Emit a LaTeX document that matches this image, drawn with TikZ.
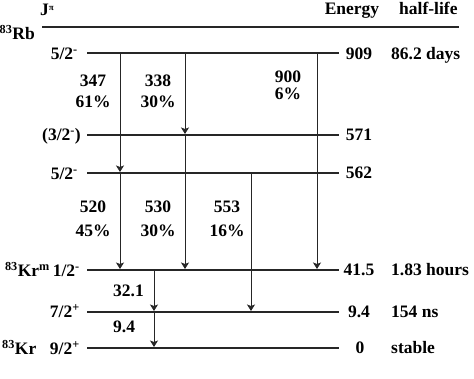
\documentclass[tikz,border=0pt]{standalone}
\usepackage{fontspec}
\setmainfont{Liberation Serif}
\usetikzlibrary{arrows.meta}
\begin{document}
\begin{tikzpicture}[x=1pt,y=-1pt,
  lvl/.style={line width=1.3pt,black!85},
  head/.style={line width=2.2pt,black!85},
  tr/.style={line width=0.9pt,black!85,-{Stealth[length=6.5pt,width=8pt,inset=1.5pt]}},
  txt/.style={font=\fontsize{17.5}{20}\selectfont\bfseries,inner sep=0pt},
  lab/.style={txt,anchor=base east},
  en/.style={txt,anchor=base},
  hl/.style={txt,anchor=base west}]
\useasboundingbox (0,0) rectangle (474,379);
% header
\coordinate (h1) at (42,27); \coordinate (h2) at (459,27);
\draw[head] (h1) -- (h2);
\node[hl] (jp) at (40,15.5) {J\raisebox{5pt}{\fontsize{9}{9}\selectfont π}};
\node[en] (enh) at (352,15) {Energy};
\node[hl] (hlh) at (399,15) {half-life};
\node[lab] (rb) at (35,40) {\textsuperscript{83}Rb};
% levels
\foreach \n/\y in {909/53,571/135,562/173,415/270,94/312,0/348}{
  \coordinate (l\n) at (87,\y); \coordinate (r\n) at (339,\y);
  \draw[lvl] (l\n) -- (r\n);
}
% level labels
\node[lab] (j909) at (78,60) {5/2\textsuperscript{-}};
\node[lab] (j571) at (81,141) {(3/2\textsuperscript{-})};
\node[lab] (j562) at (78,180) {5/2\textsuperscript{-}};
\node[lab] (j415) at (80,277) {\textsuperscript{83}Kr\textsuperscript{m}\,1/2\textsuperscript{-}};
\node[lab] (j94) at (80,318) {7/2\textsuperscript{+}};
\node[lab] (j0) at (80,355) {9/2\textsuperscript{+}};
\node[hl] (kr) at (2,355) {\textsuperscript{83}Kr};
% energies
\node[en] (e909) at (359,60) {909};
\node[en] (e571) at (359,141) {571};
\node[en] (e562) at (359,179) {562};
\node[en] (e415) at (359,276) {41.5};
\node[en] (e94) at (359,318) {9.4};
\node[en] (e0) at (360,354) {0};
% half-lives
\node[hl] (h909) at (391,60) {86.2 days};
\node[hl] (h415) at (391,276) {1.83 hours};
\node[hl] (h94) at (391,318) {154 ns};
\node[hl] (h0) at (391,354) {stable};
% transitions
\coordinate (a1) at (120,53); \coordinate (a2) at (120,172); \coordinate (a3) at (120,269);
\coordinate (b1) at (185,53); \coordinate (b2) at (185,134); \coordinate (b3) at (185,269);
\coordinate (c1) at (317,53); \coordinate (c2) at (317,269);
\coordinate (d1) at (251,173); \coordinate (d2) at (251,311);
\coordinate (f1) at (154,270); \coordinate (f2) at (154,311); \coordinate (f3) at (154,347);
\draw[tr] (a1) -- (a2);
\draw[tr] (a2) -- (a3);
\draw[tr] (b1) -- (b2);
\draw[tr] (b2) -- (b3);
\draw[tr] (c1) -- (c2);
\draw[tr] (d1) -- (d2);
\draw[tr] (f1) -- (f2);
\draw[tr] (f2) -- (f3);
% transition labels
\node[en] (t347) at (93,87) {347};
\node[en] (p347) at (93,108) {61\%};
\node[en] (t338) at (158,87) {338};
\node[en] (p338) at (158,108) {30\%};
\node[en] (t900) at (288,83) {900};
\node[en] (p900) at (288,100) {6\%};
\node[en] (t520) at (93,213) {520};
\node[en] (p520) at (93,237) {45\%};
\node[en] (t530) at (158,213) {530};
\node[en] (p530) at (158,237) {30\%};
\node[en] (t553) at (227,213) {553};
\node[en] (p553) at (227,237) {16\%};
\node[hl] (t321) at (113,297) {32.1};
\node[hl] (t94) at (113,333) {9.4};
\end{tikzpicture}
\end{document}
